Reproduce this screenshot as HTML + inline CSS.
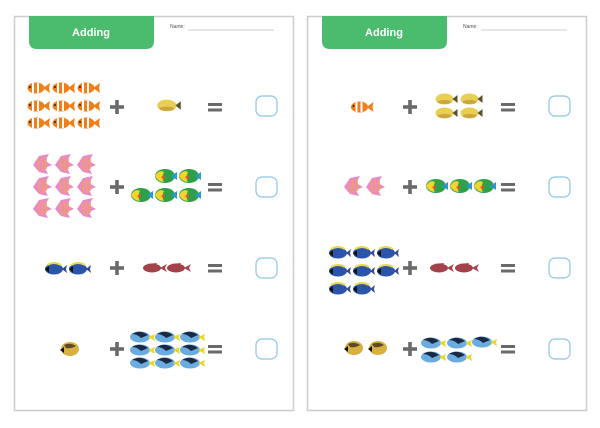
<!DOCTYPE html>
<html><head><meta charset="utf-8"><style>
html,body{margin:0;padding:0;background:#fff;width:600px;height:428px;overflow:hidden}
svg{display:block}
text{font-family:"Liberation Sans",sans-serif}
</style></head><body>
<svg width="600" height="428" viewBox="0 0 600 428" xmlns="http://www.w3.org/2000/svg">
<defs>
<symbol id="clown" viewBox="0 0 24 14"><path d="M16 7 L23 2 L22 7 L23 12 Z" fill="#f07f1a"/><ellipse cx="9" cy="7" rx="8.5" ry="5.5" fill="#f07f1a"/><rect x="5" y="2" width="2" height="10" fill="#fff"/><rect x="10" y="2" width="2" height="10" fill="#fff"/><circle cx="3" cy="6" r="1" fill="#222"/></symbol>
<symbol id="yellow" viewBox="0 0 24 14"><ellipse cx="10" cy="7" rx="9" ry="5.5" fill="#e8cf54"/><path d="M18 7 L23 3 L23 11 Z" fill="#5a5030"/><ellipse cx="10" cy="10" rx="7" ry="2" fill="#c9a640"/></symbol>
<symbol id="pink" viewBox="0 0 22 22"><path d="M2 12 L8 3 L18 1 L14 8 L21 12 L14 15 L17 21 L8 19 Z" fill="#e88ac8"/><path d="M7 6 L9 18 M11 4 L12 18 M15 5 L15 16" stroke="#f2a060" stroke-width="1.6"/></symbol>
<symbol id="green" viewBox="0 0 24 16"><ellipse cx="12" cy="8" rx="10" ry="7" fill="#2ea04a"/><path d="M18 8 L24 4 L24 12 Z" fill="#2a9ad0"/><path d="M2 8 Q6 1 11 4 Q8 10 11 14 Q5 14 2 8Z" fill="#f2d42a"/><path d="M8 9 L12 7 L11 12 Z" fill="#e8552a"/></symbol>
<symbol id="blue" viewBox="0 0 24 14"><ellipse cx="10" cy="8" rx="9" ry="5.5" fill="#2a55a8"/><path d="M3 4 Q10 0 17 4" stroke="#e8d84a" stroke-width="2" fill="none"/><path d="M1 8 L5 5 L5 12 Z" fill="#111"/><path d="M18 8 L23 4 L22 8 L23 12 Z" fill="#3a4a8a"/></symbol>
<symbol id="red" viewBox="0 0 26 12"><ellipse cx="10" cy="6" rx="9" ry="4.5" fill="#a4424c"/><path d="M18 6 L25 2 L23 6 L25 10 Z" fill="#a4424c"/><path d="M5 2 L15 1 L14 3 Z" fill="#a4424c"/></symbol>
<symbol id="butter" viewBox="0 0 22 16"><ellipse cx="12" cy="8" rx="9" ry="7" fill="#d8b040"/><path d="M6 4 Q12 1 18 5 Q13 8 8 7Z" fill="#5a4a2a"/><path d="M2 9 L6 6 L6 12 Z" fill="#111"/></symbol>
<symbol id="tang" viewBox="0 0 26 14"><ellipse cx="11" cy="8" rx="10" ry="5.5" fill="#6aace0"/><path d="M3 5 Q11 0 19 6 L12 9 Q8 5 3 5Z" fill="#1a2a44"/><path d="M19 8 L26 5 L25 8 L26 12 Z" fill="#e8d82a"/></symbol>
<g id="plus"><rect x="-7" y="-1.8" width="14" height="3.6" fill="#6a6a6a"/><rect x="-1.8" y="-7" width="3.6" height="14" fill="#6a6a6a"/></g>
<g id="eq"><rect x="-7" y="-4" width="14" height="3" fill="#6a6a6a"/><rect x="-7" y="1.5" width="14" height="3" fill="#6a6a6a"/></g>
<rect id="box" x="0" y="0" width="21" height="20" rx="6" fill="#fff" stroke="#8cc4e8" stroke-width="1.2"/>
</defs>

<!-- pages -->
<rect x="14.5" y="16.5" width="279" height="394" fill="#fff" stroke="#ccc" stroke-width="1.5"/>
<rect x="307.5" y="16.5" width="279" height="394" fill="#fff" stroke="#ccc" stroke-width="1.5"/>
<path d="M29 16 H154 V41 Q154 49 146 49 H37 Q29 49 29 41 Z" fill="#4bbb6e"/>
<path d="M322 16 H447 V41 Q447 49 439 49 H330 Q322 49 322 41 Z" fill="#4bbb6e"/>
<text x="91" y="36" text-anchor="middle" fill="#fff" font-size="11" font-weight="bold">Adding</text>
<text x="384" y="36" text-anchor="middle" fill="#fff" font-size="11" font-weight="bold">Adding</text>
<text x="170" y="28" font-size="5" fill="#555">Name:</text><line x1="188" y1="30" x2="274" y2="30" stroke="#999" stroke-width="0.6"/>
<text x="463" y="28" font-size="5" fill="#555">Name:</text><line x1="481" y1="30" x2="567" y2="30" stroke="#999" stroke-width="0.6"/>

<!-- left page row1 -->
<g>
<use href="#clown" x="27" y="81" width="24" height="14"/><use href="#clown" x="52" y="81" width="24" height="14"/><use href="#clown" x="77" y="81" width="24" height="14"/>
<use href="#clown" x="27" y="99" width="24" height="14"/><use href="#clown" x="52" y="99" width="24" height="14"/><use href="#clown" x="77" y="99" width="24" height="14"/>
<use href="#clown" x="27" y="116" width="24" height="14"/><use href="#clown" x="52" y="116" width="24" height="14"/><use href="#clown" x="77" y="116" width="24" height="14"/>
</g>
<use href="#yellow" x="156" y="98" width="26" height="15"/>
<!-- row2 -->
<use href="#pink" x="31" y="153" width="22" height="22"/><use href="#pink" x="53" y="153" width="22" height="22"/><use href="#pink" x="75" y="153" width="22" height="22"/>
<use href="#pink" x="31" y="175" width="22" height="22"/><use href="#pink" x="53" y="175" width="22" height="22"/><use href="#pink" x="75" y="175" width="22" height="22"/>
<use href="#pink" x="31" y="197" width="22" height="22"/><use href="#pink" x="53" y="197" width="22" height="22"/><use href="#pink" x="75" y="197" width="22" height="22"/>
<use href="#green" x="153" y="168" width="24" height="16"/><use href="#green" x="177" y="168" width="24" height="16"/>
<use href="#green" x="129" y="187" width="24" height="16"/><use href="#green" x="153" y="187" width="24" height="16"/><use href="#green" x="177" y="187" width="24" height="16"/>
<!-- row3 -->
<use href="#blue" x="44" y="261" width="24" height="14"/><use href="#blue" x="68" y="261" width="24" height="14"/>
<use href="#red" x="142" y="262" width="26" height="12"/><use href="#red" x="166" y="262" width="26" height="12"/>
<!-- row4 -->
<use href="#butter" x="58" y="341" width="22" height="16"/>
<use href="#tang" x="129" y="329" width="26" height="14"/><use href="#tang" x="154" y="329" width="26" height="14"/><use href="#tang" x="179" y="329" width="26" height="14"/>
<use href="#tang" x="129" y="342" width="26" height="14"/><use href="#tang" x="154" y="342" width="26" height="14"/><use href="#tang" x="179" y="342" width="26" height="14"/>
<use href="#tang" x="129" y="355" width="26" height="14"/><use href="#tang" x="154" y="355" width="26" height="14"/><use href="#tang" x="179" y="355" width="26" height="14"/>

<!-- right page -->
<use href="#clown" x="350" y="100" width="25" height="14"/>
<use href="#yellow" x="434" y="92" width="25" height="14"/><use href="#yellow" x="459" y="92" width="25" height="14"/>
<use href="#yellow" x="434" y="106" width="25" height="14"/><use href="#yellow" x="459" y="106" width="25" height="14"/>
<use href="#pink" x="342" y="175" width="22" height="22"/><use href="#pink" x="364" y="175" width="22" height="22"/>
<use href="#green" x="424" y="178" width="24" height="16"/><use href="#green" x="448" y="178" width="24" height="16"/><use href="#green" x="472" y="178" width="24" height="16"/>
<use href="#blue" x="328" y="245" width="24" height="14"/><use href="#blue" x="352" y="245" width="24" height="14"/><use href="#blue" x="376" y="245" width="24" height="14"/>
<use href="#blue" x="328" y="263" width="24" height="14"/><use href="#blue" x="352" y="263" width="24" height="14"/><use href="#blue" x="376" y="263" width="24" height="14"/>
<use href="#blue" x="328" y="281" width="24" height="14"/><use href="#blue" x="352" y="281" width="24" height="14"/>
<use href="#red" x="429" y="262" width="26" height="12"/><use href="#red" x="454" y="262" width="26" height="12"/>
<use href="#butter" x="342" y="340" width="22" height="16"/><use href="#butter" x="366" y="340" width="22" height="16"/>
<use href="#tang" x="420" y="335" width="26" height="14"/><use href="#tang" x="446" y="335" width="26" height="14"/><use href="#tang" x="471" y="334" width="26" height="14"/>
<use href="#tang" x="420" y="349" width="26" height="14"/><use href="#tang" x="446" y="349" width="26" height="14"/>

<!-- operators and boxes -->
<use href="#plus" transform="translate(117,107)"/><use href="#eq" transform="translate(215,107)"/><use href="#box" x="256" y="96"/>
<use href="#plus" transform="translate(117,187)"/><use href="#eq" transform="translate(215,187)"/><use href="#box" x="256" y="177"/>
<use href="#plus" transform="translate(117,268)"/><use href="#eq" transform="translate(215,268)"/><use href="#box" x="256" y="258"/>
<use href="#plus" transform="translate(117,349)"/><use href="#eq" transform="translate(215,349)"/><use href="#box" x="256" y="339"/>
<use href="#plus" transform="translate(410,107)"/><use href="#eq" transform="translate(508,107)"/><use href="#box" x="549" y="96"/>
<use href="#plus" transform="translate(410,187)"/><use href="#eq" transform="translate(508,187)"/><use href="#box" x="549" y="177"/>
<use href="#plus" transform="translate(410,268)"/><use href="#eq" transform="translate(508,268)"/><use href="#box" x="549" y="258"/>
<use href="#plus" transform="translate(410,349)"/><use href="#eq" transform="translate(508,349)"/><use href="#box" x="549" y="339"/>
</svg>
</body></html>
